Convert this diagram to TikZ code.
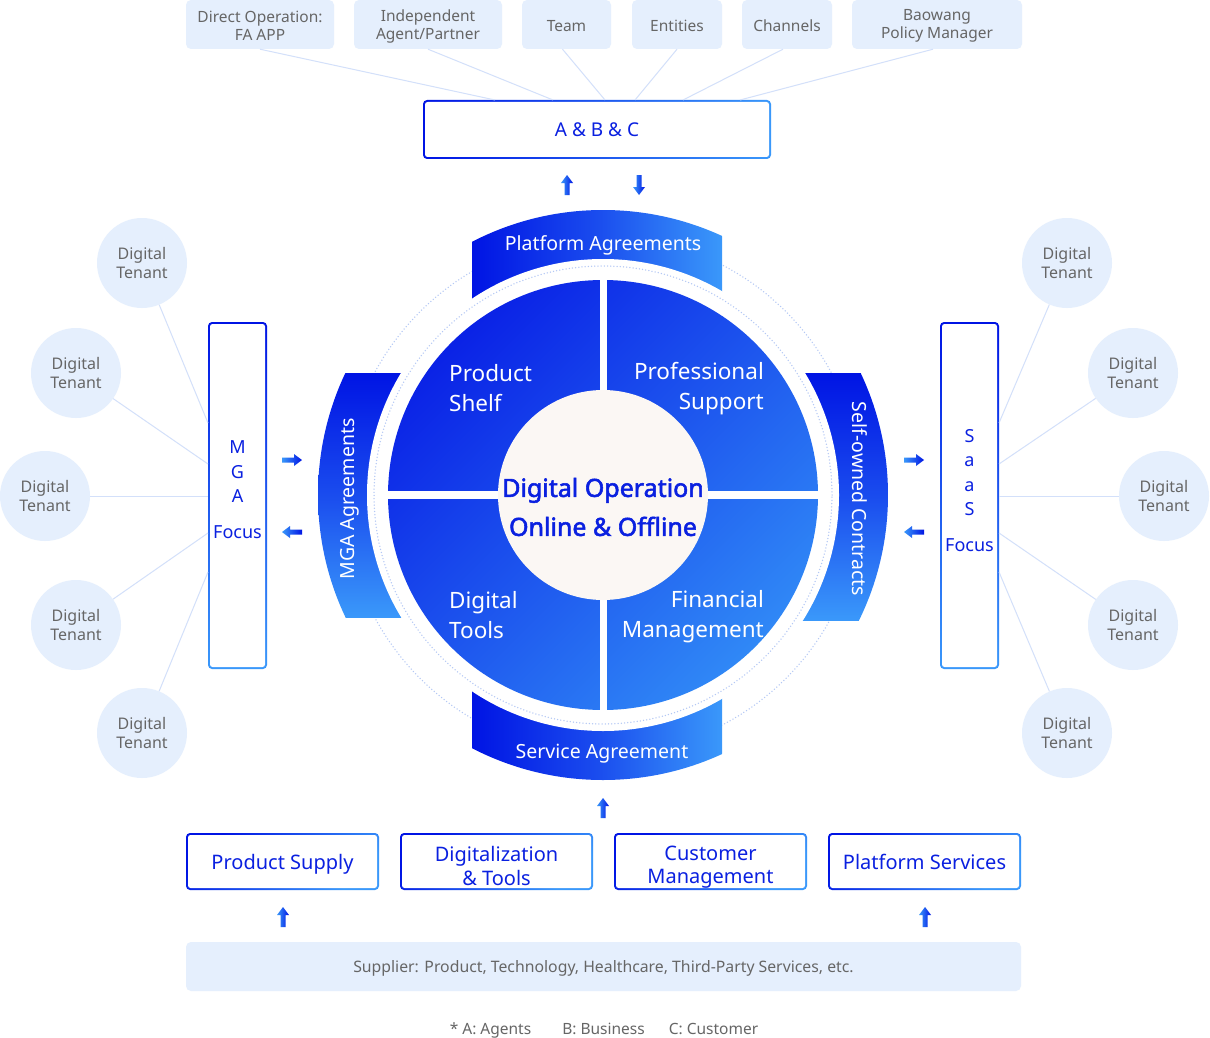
\documentclass[tikz,border=0pt]{standalone}
\usepackage{fontspec}
\setmainfont{Noto Sans}[AutoFakeBold=2.2]
\usetikzlibrary{calc}
\definecolor{bd}{HTML}{0014E4}
\definecolor{bm}{HTML}{1A4CEE}
\definecolor{bl}{HTML}{3A98FA}
\definecolor{tb}{HTML}{0A20E0}
\definecolor{gt}{HTML}{666666}
\definecolor{lf}{HTML}{E5EFFD}
\definecolor{ln}{HTML}{D3E0FA}
\definecolor{dt}{HTML}{B4C8F5}
\definecolor{cream}{HTML}{FBF7F4}
\definecolor{qd}{HTML}{0A22E6}
\definecolor{ql}{HTML}{3088F6}
\begin{document}
\begin{tikzpicture}[x=1pt,y=-1pt,
  topbox/.style={fill=lf, rounded corners=5pt, minimum height=49pt, inner sep=0pt},
  toptext/.style={text=gt, align=center, inner sep=0pt, font=\fontsize{15.5}{18}\selectfont},
  tenant/.style={circle, fill=lf, minimum size=90pt, inner sep=0pt, text=gt, align=center, font=\fontsize{16}{19}\selectfont},
  conn/.style={draw=ln, line width=1pt},
  inset/.style={path picture={\fill[white, rounded corners=2.5pt] ([xshift=2pt,yshift=-2pt]path picture bounding box.north west) rectangle ([xshift=-2pt,yshift=2pt]path picture bounding box.south east);}},
  gboxh/.style={rounded corners=4pt, inner sep=0pt, left color=bd, right color=bl, inset, text=tb},
  gboxv/.style={rounded corners=4pt, inner sep=0pt, top color=bd, bottom color=bl, inset, text=tb},
  gboxd/.style={rounded corners=4pt, inner sep=0pt, top color=bd, bottom color=bl, shading angle=45, inset, minimum width=193pt, minimum height=57pt},
  btext/.style={text=tb, align=center, inner sep=0pt, font=\fontsize{20}{24}\selectfont},
  qlabel/.style={text=white, font=\fontsize{22.5}{30}\selectfont, inner sep=0pt},
  bandtext/.style={text=white, font=\fontsize{19.5}{22}\selectfont, inner sep=0pt},
  foot/.style={text=gt, font=\fontsize{15.5}{18}\selectfont, inner sep=0pt, anchor=base},
  dotring/.style={draw=dt, line width=1.5pt, dash pattern=on 0pt off 3.2pt, line cap=round},
  garrow/.pic={\shade[left color=bl, right color=bd] (-10,-2.5) -- (2,-2.5) -- (2,-6) -- (10,0) -- (2,6) -- (2,2.5) -- (-10,2.5) -- cycle;}
]
\useasboundingbox (0,0) rectangle (1210,1038);
\fill[white] (0,0) rectangle (1210,1038);

% ---------- top row ----------
\node[topbox, minimum width=148pt] (d1) at (260,24.5) {};
\node[topbox, minimum width=148pt] (d2) at (428,24.5) {};
\node[topbox, minimum width=89pt]  (d3) at (566.5,24.5) {};
\node[topbox, minimum width=90pt]  (d4) at (677,24.5) {};
\node[topbox, minimum width=90pt]  (d5) at (787,24.5) {};
\node[topbox, minimum width=170pt] (d6) at (937,24.5) {};
\node[toptext] (d1t) at (260,26) {Direct Operation:\\FA APP};
\node[toptext] (d2t) at (428,26) {Independent\\Agent/Partner};
\node[toptext] (d3t) at (566.5,26) {Team};
\node[toptext] (d4t) at (677,26) {Entities};
\node[toptext] (d5t) at (787,26) {Channels};
\node[toptext] (d6t) at (937,26) {Baowang\\Policy Manager};

\node[gboxh, minimum width=348pt, minimum height=59pt, font=\fontsize{19}{22}\selectfont] (abc) at (597,129.5) {A \& B \& C};
\coordinate (t1) at (495,100);
\coordinate (t2) at (553,100);
\coordinate (t3) at (605,100);
\coordinate (t4) at (635,100);
\coordinate (t5) at (683,100);
\coordinate (t6) at (740,100);
\draw[conn] (d1.south) -- (t1);
\draw[conn] (d2.south) -- (t2);
\draw[conn] ([xshift=-4pt]d3.south) -- (t3);
\draw[conn] (d4.south) -- (t4);
\draw[conn] ([xshift=-4pt]d5.south) -- (t5);
\draw[conn] ([xshift=-4pt]d6.south) -- (t6);

\pic[rotate=90] at (567,185) {garrow};
\pic[rotate=-90] at (639,185) {garrow};

% ---------- central wheel ----------
\coordinate (c) at (603,495);
\draw[dotring] (c) circle[radius=259pt];

\begin{scope}
  \clip (c) circle[radius=285pt];
  \clip (472,200) rectangle (722,301);
  \shade[left color=bd, right color=bl, middle color=bm] (472,200) rectangle (722,301);
\end{scope}
\begin{scope}
  \clip (c) circle[radius=285pt];
  \clip (472,689) rectangle (722,790);
  \shade[left color=bd, right color=bl, middle color=bm] (472,689) rectangle (722,790);
\end{scope}
\begin{scope}
  \clip (c) circle[radius=285pt];
  \clip (300,373) rectangle (410,617);
  \shade[top color=bd, bottom color=bl, middle color=bm] (300,373) rectangle (410,617);
\end{scope}
\begin{scope}
  \clip (c) circle[radius=285pt];
  \clip (796,373) rectangle (906,620);
  \shade[top color=bd, bottom color=bl, middle color=bm] (796,373) rectangle (906,620);
\end{scope}
\fill[white] (c) circle[radius=236pt];
\draw[dotring] (c) circle[radius=229pt];

\shade[top color=qd, bottom color=ql, shading angle=45] (c) circle[radius=215pt];
\fill[white] (599.5,275) rectangle (607,716);
\fill[white] (382,491) rectangle (824,499);
\fill[cream] (c) circle[radius=105pt];

\node[bandtext] (pa) at (603,245) {Platform Agreements};
\node[bandtext] (sa) at (602,753.5) {Service Agreement};
\node[bandtext, rotate=90] (ma) at (350,499) {MGA Agreements};
\node[bandtext, rotate=-90] (so) at (859.5,499) {Self-owned Contracts};

\node[qlabel, anchor=west, align=left] (q1) at (449,388) {Product\\Shelf};
\node[qlabel, anchor=east, align=right] (q2) at (764,389) {Professional\\Support};
\node[qlabel, anchor=west, align=left] (q3) at (449,615) {Digital\\Tools};
\node[qlabel, anchor=east, align=right] (q4) at (764,617) {Financial\\Management};

\node[text=tb, font=\bfseries\fontsize{25}{39}\selectfont, align=center, inner sep=0pt] (title) at (603,507) {Digital Operation\\Online \& Offline};

% ---------- MGA side ----------
\node[gboxv, minimum width=59pt, minimum height=347pt] (mga) at (237.5,495.5) {};
\node[text=tb, font=\fontsize{18}{24.5}\selectfont, align=center, inner sep=0pt] (mgat) at (237.5,489.5) {M\\G\\A\\[11pt]Focus};
\pic at (292,460) {garrow};
\pic[rotate=180] at (292,532) {garrow};

\node[tenant] (l1) at (142,263) {Digital\\Tenant};
\node[tenant] (l2) at (76,373) {Digital\\Tenant};
\node[tenant] (l3) at (45,496) {Digital\\Tenant};
\node[tenant] (l4) at (76,625) {Digital\\Tenant};
\node[tenant] (l5) at (142,733) {Digital\\Tenant};
\coordinate (m1) at (208,423);
\coordinate (m2) at (208,464);
\coordinate (m3) at (208,496);
\coordinate (m4) at (208,533);
\coordinate (m5) at (208,572);
\draw[conn] (l1) -- (m1);
\draw[conn] (l2) -- (m2);
\draw[conn] (l3) -- (m3);
\draw[conn] (l4) -- (m4);
\draw[conn] (l5) -- (m5);

% ---------- SaaS side ----------
\node[gboxv, minimum width=59pt, minimum height=347pt] (saas) at (969.5,495.5) {};
\node[text=tb, font=\fontsize{18}{24.5}\selectfont, align=center, inner sep=0pt] (saast) at (969.5,490.5) {S\\a\\a\\S\\[11pt]Focus};
\pic at (914,460) {garrow};
\pic[rotate=180] at (914,532) {garrow};

\node[tenant] (r1) at (1067,263) {Digital\\Tenant};
\node[tenant] (r2) at (1133,373) {Digital\\Tenant};
\node[tenant] (r3) at (1164,496) {Digital\\Tenant};
\node[tenant] (r4) at (1133,625) {Digital\\Tenant};
\node[tenant] (r5) at (1067,733) {Digital\\Tenant};
\coordinate (s1) at (999,423);
\coordinate (s2) at (999,464);
\coordinate (s3) at (999,496);
\coordinate (s4) at (999,533);
\coordinate (s5) at (999,572);
\draw[conn] (r1) -- (s1);
\draw[conn] (r2) -- (s2);
\draw[conn] (r3) -- (s3);
\draw[conn] (r4) -- (s4);
\draw[conn] (r5) -- (s5);

% ---------- bottom ----------
\pic[rotate=90] at (603,808) {garrow};
\node[gboxd] (b1) at (282.5,861.5) {};
\node[gboxd] (b2) at (496.5,861.5) {};
\node[gboxd] (b3) at (710.5,861.5) {};
\node[gboxd] (b4) at (924.5,861.5) {};
\node[btext] (b1t) at (282.5,864.5) {Product Supply};
\node[btext] (b2t) at (496.5,865.5) {Digitalization\\\& Tools};
\node[btext, font=\fontsize{20}{22.5}\selectfont] (b3t) at (710.5,867) {Customer\\Management};
\node[btext] (b4t) at (924.5,862) {Platform Services};
\pic[rotate=90] at (283,917) {garrow};
\pic[rotate=90] at (925,917) {garrow};

\node[fill=lf, rounded corners=5pt, minimum width=835pt, minimum height=49pt, inner sep=0pt] (sup) at (603.5,966.5) {};
\node[text=gt, font=\fontsize{15.8}{18}\selectfont, inner sep=0pt] (supt) at (603.5,968) {Supplier: Product, Technology, Healthcare, Third-Party Services, etc.};

\node[foot] (f1) at (490.5,1034) {* A: Agents};
\node[foot] (f2) at (603.5,1034) {B: Business};
\node[foot] (f3) at (713.5,1034) {C: Customer};
\end{tikzpicture}
\end{document}
